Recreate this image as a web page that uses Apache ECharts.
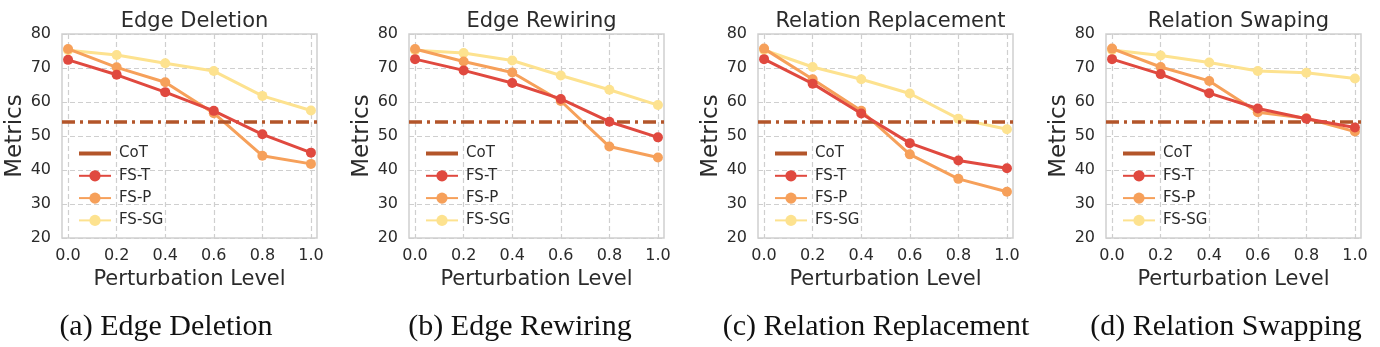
<!DOCTYPE html>
<html>
<head>
<meta charset="utf-8">
<script src="https://cdn.jsdelivr.net/npm/echarts@6/dist/echarts.min.js"></script>
<style>
html, body { margin: 0; padding: 0; background: #fff; }
#chart { width: 1380px; height: 347px; }
</style>
</head>
<body>
<div id="chart"></div>
<script>
// data
var levels = [0.0, 0.2, 0.4, 0.6, 0.8, 1.0];
var panelTitles = ['Edge Deletion', 'Edge Rewiring', 'Relation Replacement', 'Relation Swaping'];
var captions = ['(a) Edge Deletion', '(b) Edge Rewiring', '(c) Relation Replacement', '(d) Relation Swapping'];
var cotScore = [54.2, 54.2, 54.2, 54.2];
var fsT = [
	[72.4, 68.0, 62.9, 57.4, 50.5, 45.1],
	[72.6, 69.3, 65.6, 60.9, 54.2, 49.6],
	[72.6, 65.4, 56.6, 47.9, 42.8, 40.5],
	[72.6, 68.2, 62.6, 58.1, 55.1, 52.5]
];
var fsP = [
	[75.6, 70.2, 65.8, 56.7, 44.2, 41.8],
	[75.6, 71.9, 68.7, 60.3, 46.9, 43.7],
	[75.7, 66.7, 57.4, 44.6, 37.4, 33.6],
	[75.7, 70.3, 66.2, 57.0, 55.2, 51.3]
];
var fsSG = [
	[75.2, 73.8, 71.4, 69.1, 61.8, 57.5],
	[75.2, 74.4, 72.2, 67.8, 63.6, 59.1],
	[75.3, 70.3, 66.7, 62.5, 55.1, 52.0],
	[75.3, 73.7, 71.6, 69.1, 68.6, 66.9]
];

var colors = {cot: '#b3552a', t: '#e0493f', p: '#f6a05a', sg: '#fde28f'};
var textColor = '#2b2b2b';

//每个子图的位置
var gridLeft = [62, 409, 758, 1106];
var gridWidth = 255;
var gridTop = 34;
var gridHeight = 204;
var captionX = [166, 520, 876, 1226];

function pairs(vals) {
	var res = [];
	for (var i = 0; i < levels.length; i++) {
		res.push([levels[i], vals[i]]);
	}
	return res;
}

var option = {
	backgroundColor: '#fff',
	animation: false,
	title: [],
	grid: [],
	xAxis: [],
	yAxis: [],
	legend: [],
	series: [],
	graphic: []
};

for (var k = 0; k < 4; k++) {
	option.title.push({
		text: panelTitles[k],
		left: gridLeft[k] + gridWidth / 2,
		top: 6,
		textAlign: 'center',
		textStyle: {fontFamily: 'DejaVu Sans', fontSize: 21, fontWeight: 'normal', color: textColor}
	});
	option.grid.push({
		left: gridLeft[k], top: gridTop, width: gridWidth, height: gridHeight,
		show: true, borderColor: '#cfcfcf', borderWidth: 1.5, backgroundColor: '#fff'
	});
	option.xAxis.push({
		type: 'value', gridIndex: k,
		min: -0.025, max: 1.025,
		name: 'Perturbation Level', nameLocation: 'middle', nameGap: 27,
		nameTextStyle: {fontFamily: 'DejaVu Sans', fontSize: 21, color: textColor},
		axisLine: {show: false},
		axisTick: {show: false, customValues: levels},
		axisLabel: {
			customValues: levels, margin: 10,
			fontFamily: 'DejaVu Sans', fontSize: 16, color: textColor,
			formatter: function(v) { return v.toFixed(1); }
		},
		splitLine: {show: true, lineStyle: {color: '#cfcfcf', width: 1.2, type: [5, 3]}}
	});
	option.yAxis.push({
		type: 'value', gridIndex: k,
		min: 20, max: 80, interval: 10,
		name: 'Metrics', nameLocation: 'middle', nameGap: 34,
		nameTextStyle: {fontFamily: 'DejaVu Sans', fontSize: 23, color: textColor},
		axisLine: {show: false},
		axisTick: {show: false},
		axisLabel: {margin: 11, fontFamily: 'DejaVu Sans', fontSize: 16, color: textColor},
		splitLine: {show: true, lineStyle: {color: '#cfcfcf', width: 1.2, type: [5, 3]}}
	});
	option.legend.push({
		orient: 'vertical',
		left: gridLeft[k] + 10,
		top: 141,
		itemWidth: 32, itemHeight: 14, itemGap: 7.3,
		data: [{name: 'CoT', itemStyle: {opacity: 0}, lineStyle: {type: 'solid', width: 4}}, 'FS-T', 'FS-P', 'FS-SG'],
		textStyle: {fontFamily: 'DejaVu Sans', fontSize: 15, color: textColor, padding: [0, 0, 0, 3]}
	});

	option.series.push({
		name: 'CoT', type: 'line', xAxisIndex: k, yAxisIndex: k,
		data: [], symbol: 'none',
		color: colors.cot,
		lineStyle: {color: colors.cot, width: 4, type: [13, 5, 3, 5]},
		markLine: {
			silent: true, symbol: 'none', label: {show: false},
			lineStyle: {color: colors.cot, width: 3.5, type: [13, 5, 3, 5]},
			data: [{yAxis: cotScore[k]}]
		},
		z: 2
	});
	var lines = [['FS-T', fsT, colors.t, 5], ['FS-P', fsP, colors.p, 4], ['FS-SG', fsSG, colors.sg, 3]];
	for (var j = 0; j < lines.length; j++) {
		option.series.push({
			name: lines[j][0], type: 'line', xAxisIndex: k, yAxisIndex: k,
			data: pairs(lines[j][1][k]),
			symbol: 'circle', symbolSize: 10,
			color: lines[j][2],
			lineStyle: {color: lines[j][2], width: 3},
			itemStyle: {color: lines[j][2]},
			z: lines[j][3]
		});
	}

	option.graphic.push({
		type: 'text',
		x: captionX[k], y: 327,
		style: {
			text: captions[k], align: 'center', verticalAlign: 'middle',
			fontFamily: 'Liberation Serif', fontSize: 30, fill: '#111'
		}
	});
}

var chart = echarts.init(document.getElementById('chart'), null, {renderer: 'canvas'});
chart.setOption(option);
</script>
</body>
</html>
